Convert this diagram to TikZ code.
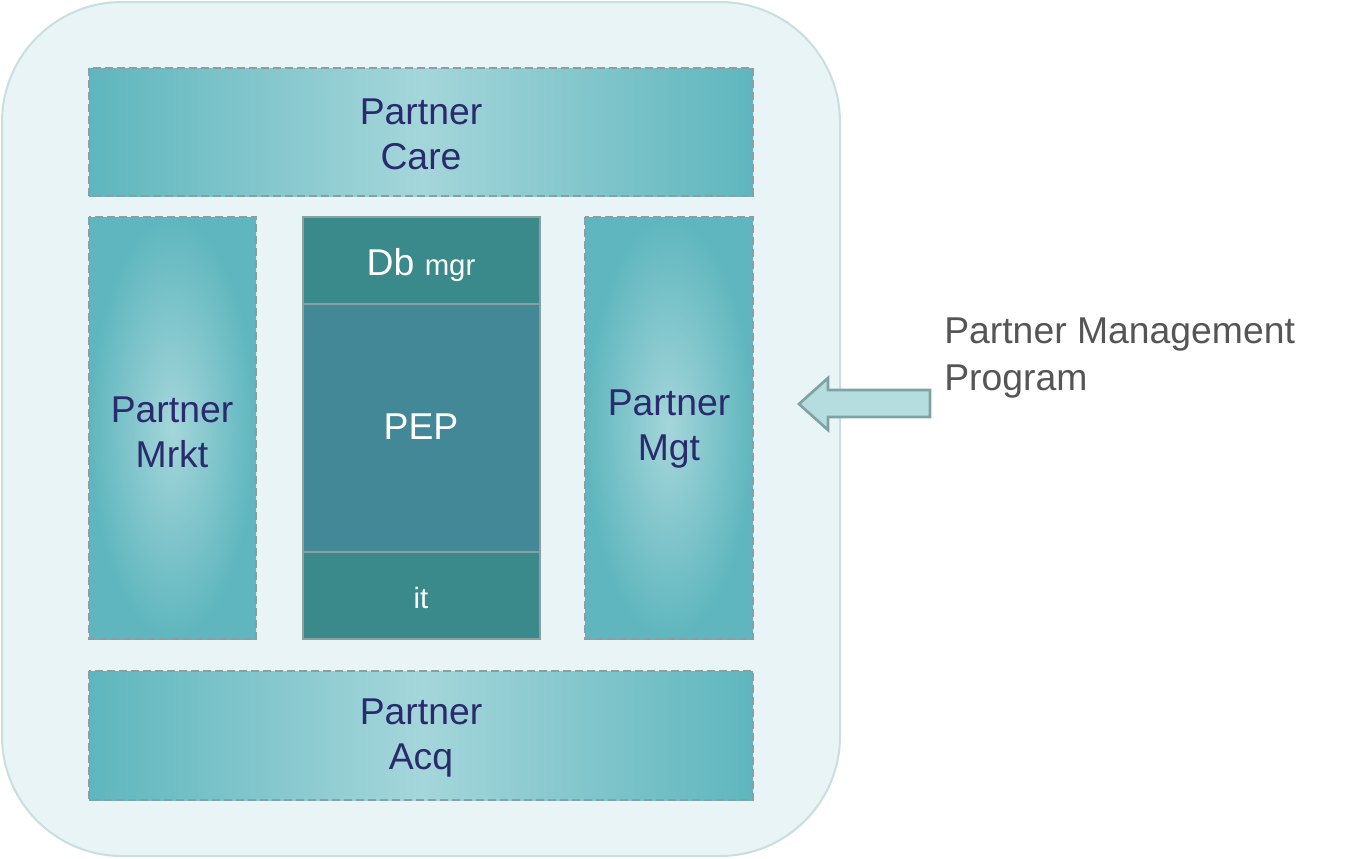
\documentclass[tikz,border=0pt]{standalone}
\usepackage{fontspec}
\setmainfont{Liberation Sans}
\usetikzlibrary{shadings}
\definecolor{bgfill}{HTML}{E8F4F6}
\definecolor{bgline}{HTML}{C9DEDF}
\definecolor{tealdark}{HTML}{5FB6BE}
\definecolor{teallight}{HTML}{A4D6DA}
\definecolor{navy}{HTML}{2B2A6E}
\definecolor{dbfill}{HTML}{3A8A8C}
\definecolor{pepfill}{HTML}{428896}
\definecolor{boxline}{HTML}{8C9FA0}
\definecolor{arrfill}{HTML}{B5DDE0}
\definecolor{arrline}{HTML}{7FA3A3}
\definecolor{txtgray}{HTML}{555555}
\begin{document}
\begin{tikzpicture}[x=0.75pt,y=-0.75pt,
  lbl/.style={text=navy,font=\fontsize{28}{34}\selectfont,align=center},
  dbox/.style={draw=boxline,dash pattern=on 6pt off 3pt,line width=1.5pt},
  hbar/.style={left color=tealdark,right color=tealdark,middle color=teallight},
  vbar/.style={inner color=teallight,outer color=tealdark},
  cbox/.style={draw=boxline,line width=1.5pt,text=white}]
\useasboundingbox (0,0) rectangle (1360,858);
\draw[fill=bgfill,draw=bgline,line width=1.5pt,rounded corners=90pt] (2,2) rectangle (840,856);
% bars
\path[hbar,dbox] (89,68) rectangle (753,196);
\node[lbl] (care) at (421,134) {Partner\\Care};
\path[hbar,dbox] (89,671) rectangle (753,800);
\node[lbl] (acq) at (421,738) {Partner\\Acq};
\path[vbar,dbox] (89,217) rectangle (256,639);
\node[lbl] (mrkt) at (172,432) {Partner\\Mrkt};
\path[vbar,dbox] (585,217) rectangle (753,639);
\node[lbl] (mgt) at (669,432) {Partner\\Mgt\strut};
% center column
\path[fill=dbfill,cbox] (303,217) rectangle (540,304);
\node[text=white] (db) at (421,265) {\fontsize{28}{34}\selectfont Db \fontsize{22}{26}\selectfont mgr};
\path[fill=pepfill,cbox] (303,304) rectangle (540,552);
\node[text=white,font=\fontsize{28}{34}\selectfont] (pep) at (421,427) {PEP};
\path[fill=dbfill,cbox] (303,552) rectangle (540,639);
\node[text=white,font=\fontsize{22}{26}\selectfont] (it) at (421,598) {it};
% arrow
\draw[fill=arrfill,draw=arrline,line width=2pt,line join=miter]
  (930,390) -- (828,390) -- (828,378) -- (799,404) -- (828,430) -- (828,417) -- (930,417) -- cycle;
\node[anchor=north west,text=txtgray,align=left,font=\fontsize{28}{35}\selectfont,inner sep=0pt] (pmp) at (944,318) {Partner Management\\Program};
\end{tikzpicture}
\end{document}
